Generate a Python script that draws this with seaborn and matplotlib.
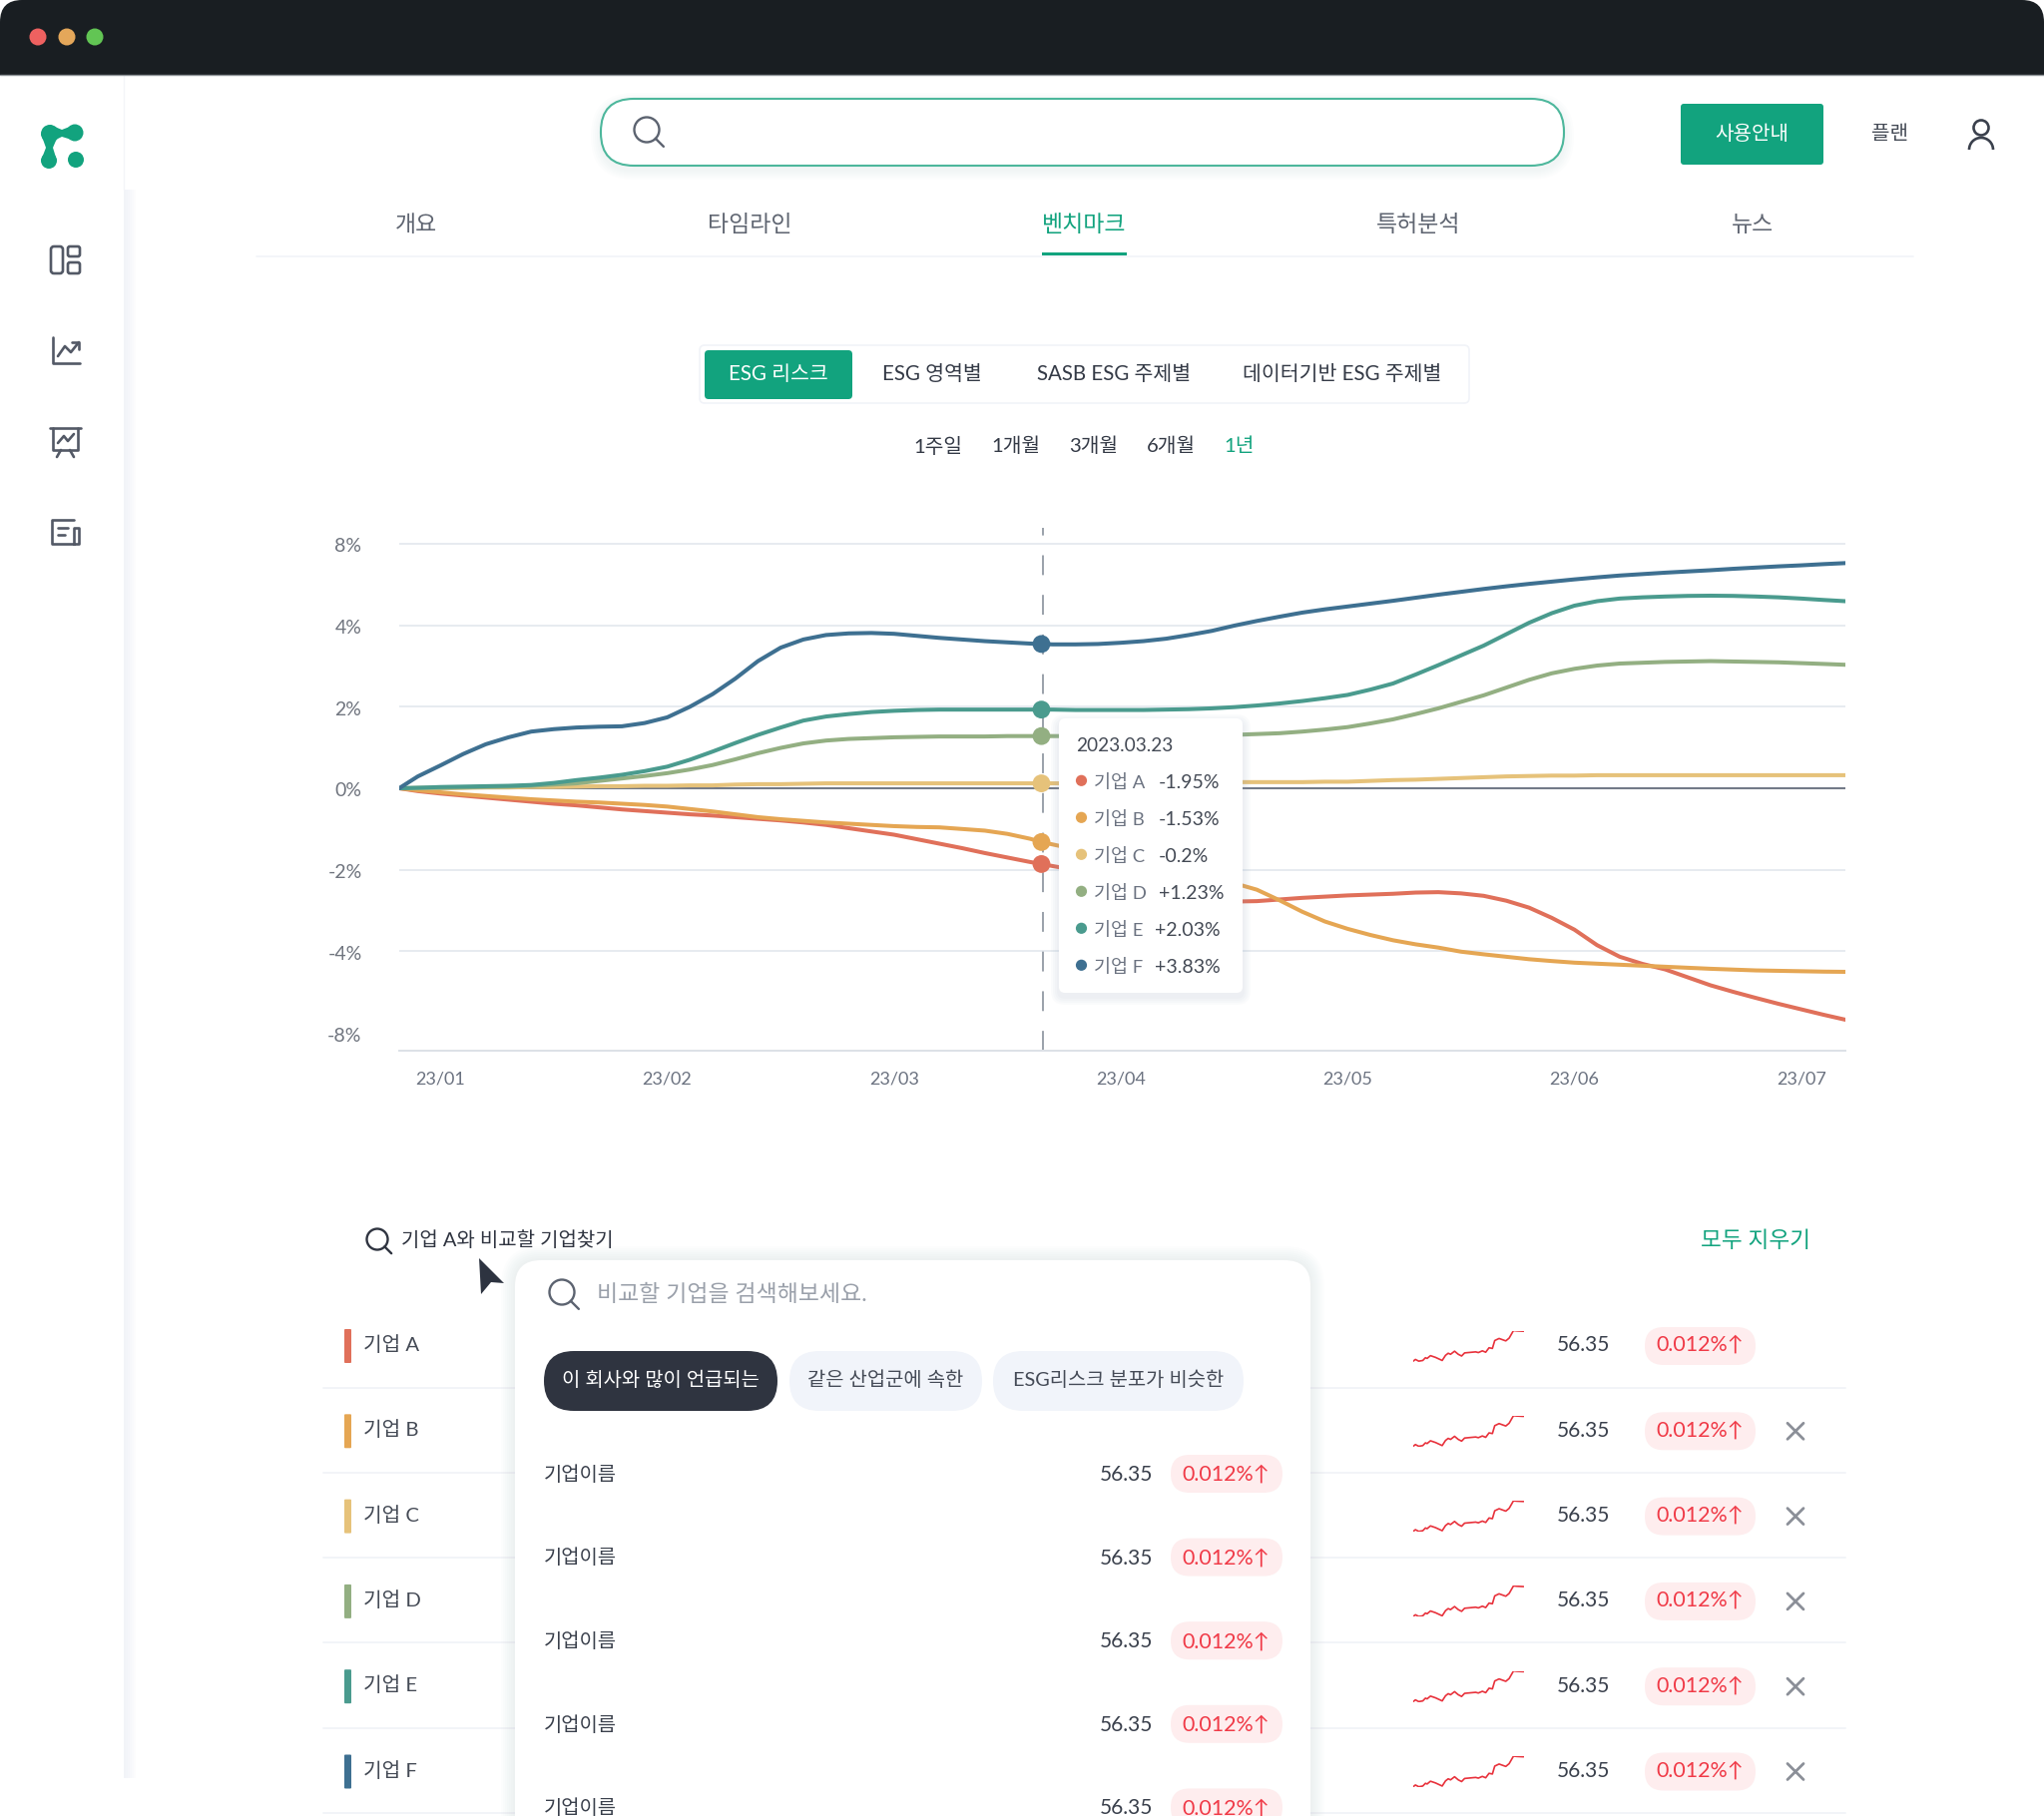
import matplotlib
matplotlib.use("Agg")
import matplotlib.pyplot as plt
import numpy as np
import pandas as pd
import seaborn as sns
from matplotlib.patches import Arc, Circle, FancyBboxPatch, Polygon, Rectangle
from matplotlib.transforms import ScaledTranslation

W, H = 2048, 1820
GREEN = "#12A37E"
DARK = "#343A46"
GREY = "#5F6571"
RED = "#F03A47"

sns.set_theme(style="white")
plt.rcParams["font.family"] = ["Lato", "Noto Sans CJK KR", "DejaVu Sans"]

# chart data (percent)
months = [-0.182, -0.1, 0, 0.1, 0.2, 0.3, 0.4, 0.5, 0.6, 0.7, 0.8, 0.9,
          1.0, 1.1, 1.2, 1.3, 1.4, 1.5, 1.6, 1.7, 1.8, 1.9,
          2.0, 2.1, 2.2, 2.3, 2.4, 2.5, 2.6, 2.65, 2.7, 2.8, 2.9,
          3.0, 3.1, 3.2, 3.3, 3.4, 3.5, 3.6, 3.7, 3.8, 3.9,
          4.0, 4.1, 4.2, 4.3, 4.4, 4.5, 4.6, 4.7, 4.8, 4.9,
          5.0, 5.1, 5.2, 5.3, 5.4, 5.5, 5.6, 5.7, 5.8, 5.9,
          6.0, 6.1, 6.195]
company_a = [0, -.07, -.13, -.18, -.23, -.28, -.33, -.38, -.42, -.47, -.52, -.56,
             -.60, -.64, -.67, -.71, -.75, -.79, -.84, -.90, -.98, -1.06,
             -1.14, -1.25, -1.36, -1.47, -1.59, -1.70, -1.81, -1.86, -1.91, -2.01, -2.15,
             -2.30, -2.46, -2.60, -2.70, -2.76, -2.78, -2.77, -2.73, -2.69, -2.66,
             -2.63, -2.61, -2.59, -2.56, -2.55, -2.58, -2.64, -2.76, -2.93, -3.18,
             -3.47, -3.85, -4.27, -4.62, -4.89, -5.28, -5.67, -5.99, -6.29, -6.58,
             -6.85, -7.12, -7.36]
company_b = [0, -.05, -.10, -.15, -.19, -.23, -.27, -.30, -.33, -.35, -.38, -.41,
             -.45, -.51, -.57, -.64, -.71, -.76, -.80, -.84, -.87, -.90,
             -.93, -.95, -.96, -1.00, -1.04, -1.12, -1.24, -1.32, -1.38, -1.50, -1.63,
             -1.76, -1.90, -2.04, -2.15, -2.25, -2.33, -2.49, -2.75, -3.03, -3.27,
             -3.45, -3.60, -3.73, -3.83, -3.91, -4.02, -4.15, -4.27, -4.39, -4.48,
             -4.56, -4.61, -4.66, -4.71, -4.76, -4.81, -4.86, -4.90, -4.94, -4.96,
             -4.98, -5.00, -5.01]
company_c = [0, 0, 0, .01, .02, .02, .03, .03, .04, .05, .05, .06,
             .06, .07, .07, .09, .10, .10, .11, .12, .12, .12,
             .12, .12, .12, .12, .12, .12, .12, .12, .12, .12, .12,
             .13, .13, .13, .14, .14, .15, .15, .15, .15, .16,
             .16, .18, .20, .21, .23, .25, .27, .29, .30, .31,
             .31, .32, .32, .32, .32, .32, .32, .32, .32, .32,
             .32, .32, .32]
company_d = [0, .01, .01, .02, .03, .04, .06, .09, .12, .18, .24, .30,
             .37, .46, .57, .71, .86, .99, 1.10, 1.17, 1.21, 1.23,
             1.25, 1.26, 1.27, 1.27, 1.27, 1.28, 1.28, 1.28, 1.28, 1.28, 1.28,
             1.29, 1.29, 1.29, 1.30, 1.30, 1.31, 1.33, 1.35, 1.39, 1.44,
             1.50, 1.59, 1.69, 1.82, 1.96, 2.12, 2.28, 2.47, 2.66, 2.82,
             2.93, 3.01, 3.06, 3.08, 3.10, 3.11, 3.12, 3.11, 3.10, 3.09,
             3.07, 3.05, 3.03]
company_e = [0, .01, .03, .04, .05, .06, .08, .13, .20, .26, .33, .42,
             .53, .70, .90, 1.11, 1.31, 1.49, 1.66, 1.76, 1.82, 1.87,
             1.90, 1.92, 1.93, 1.93, 1.93, 1.93, 1.93, 1.93, 1.93, 1.92, 1.92,
             1.92, 1.92, 1.93, 1.94, 1.96, 1.99, 2.03, 2.08, 2.14, 2.21,
             2.29, 2.42, 2.57, 2.79, 3.02, 3.26, 3.50, 3.78, 4.12, 4.59,
             4.96, 5.18, 5.31, 5.37, 5.41, 5.44, 5.45, 5.44, 5.41, 5.37,
             5.31, 5.24, 5.18]
company_f = [0, .29, .56, .84, 1.08, 1.25, 1.39, 1.45, 1.49, 1.51, 1.52, 1.60,
             1.74, 2.00, 2.31, 2.69, 3.12, 3.45, 3.65, 3.76, 3.80, 3.81,
             3.79, 3.74, 3.69, 3.65, 3.61, 3.58, 3.55, 3.54, 3.53, 3.53, 3.54,
             3.57, 3.61, 3.67, 3.76, 3.86, 3.99, 4.21, 4.42, 4.62, 4.78,
             4.92, 5.06, 5.20, 5.35, 5.50, 5.64, 5.78, 5.91, 6.03, 6.14,
             6.25, 6.35, 6.44, 6.51, 6.58, 6.64, 6.70, 6.77, 6.83, 6.89,
             6.94, 7.00, 7.05]
companies = ["기업 A", "기업 B", "기업 C", "기업 D", "기업 E", "기업 F"]
colors = ["#E0705A", "#E5A653", "#E6C27A", "#93AF82", "#4A9B8E", "#3E7091"]
hover_month = 2.65
month_ticks = [0, 1, 2, 3, 4, 5, 6]
month_labels = ["23/01", "23/02", "23/03", "23/04", "23/05", "23/06", "23/07"]
pct_ticks = [8, 4, 2, 0, -2, -4, -8]
pct_labels = ["8%", "4%", "2%", "0%", "-2%", "-4%", "-8%"]
tooltip_date = "2023.03.23"
tooltip_values = ["-1.95%", "-1.53%", "-0.2%", "+1.23%", "+2.03%", "+3.83%"]

# the little sparkline in every table row
spark_t = [0, 8, 18, 30, 38, 43, 53, 68, 88, 98, 106, 113, 125, 136, 146, 155, 188, 196,
           208, 218, 228, 238, 245, 258, 278, 288, 301, 311, 331]
spark_v = [0, 6, 1, 3, 11, 9, 17, 12, 3, 18, 24, 21, 30, 21, 16, 25, 28, 26,
           31, 27, 40, 38, 61, 67, 60, 68, 90, 89, 88]

tabs = ["개요", "타임라인", "벤치마크", "특허분석", "뉴스"]
segments = ["ESG 리스크", "ESG 영역별", "SASB ESG 주제별", "데이터기반 ESG 주제별"]
periods = ["1주일", "1개월", "3개월", "6개월", "1년"]
chips = ["이 회사와 많이 언급되는", "같은 산업군에 속한", "ESG리스크 분포가 비슷한"]
price = "56.35"
change = "0.012%↑"


def box(ax, x0, y0, x1, y1, r=0, fc="white", ec="none", lw=0, z=2, alpha=None):
    p = FancyBboxPatch((x0, y0), x1 - x0, y1 - y0, boxstyle=f"round,pad=0,rounding_size={r}",
                       fc=fc, ec=ec, lw=lw, zorder=z, alpha=alpha)
    ax.add_patch(p)
    return p


def shadow(ax, x0, y0, x1, y1, r, spread=14, dy=3, color="#8FA0BC", alpha=0.018, z=2):
    for i in range(spread, 0, -2):
        box(ax, x0 - i, y0 - i + dy, x1 + i, y1 + i + dy, r + i, fc=color, z=z, alpha=alpha)


def label(ax, x, y, s, size=14, color=DARK, ha="center", z=6):
    ax.text(x, y, s, fontsize=size, color=color, ha=ha, va="center", zorder=z)


def seg(ax, xs, ys, color="#535966", lw=1.9, z=5):
    ax.plot(xs, ys, color=color, lw=lw, solid_capstyle="round", solid_joinstyle="round", zorder=z)


def search_icon(ax, cx, cy, r=11.5, color="#5C6370"):
    ax.add_patch(Circle((cx, cy), r, fc="none", ec=color, lw=1.7, zorder=5))
    seg(ax, [cx + r * 0.7, cx + r * 1.35], [cy + r * 0.7, cy + r * 1.35], color=color, lw=1.7)


fig = plt.figure(figsize=(W / 100, H / 100), dpi=100, facecolor="white")
bg = fig.add_axes([0, 0, 1, 1], zorder=0)
bg.set_xlim(0, W)
bg.set_ylim(H, 0)
bg.axis("off")

# window bar
box(bg, 0, 0, W, 60, r=22, fc="#191E22")
bg.add_patch(Rectangle((0, 30), W, 45, fc="#191E22", lw=0, zorder=2))
bg.plot([0, W], [75, 75], color="#8C9196", lw=1, zorder=3)
for cx, col in zip([38, 67, 95], ["#EE6160", "#E4A75A", "#62C554"]):
    bg.add_patch(Circle((cx, 37), 8.5, fc=col, lw=0, zorder=3))

# sidebar
for i in range(6):
    bg.add_patch(Rectangle((124, 190), 12 - 2 * i, 1592, fc="#EEF1F8", lw=0, alpha=0.17, zorder=1))
bg.plot([124, 124], [76, 190], color="#F4F5F8", lw=1, zorder=1)

# logo
for cx, cy, r in [(50, 134, 9), (75, 133, 8.5), (49, 161, 8), (76, 160, 8)]:
    bg.add_patch(Circle((cx, cy), r, fc=GREEN, lw=0, zorder=3))
bg.add_patch(Polygon([(50, 125), (62, 130), (75, 125), (75, 141), (62, 137), (50, 143)], fc=GREEN, lw=0, zorder=3))
bg.add_patch(Polygon([(41, 134), (46, 148), (41, 161), (57, 161), (53, 148), (59, 134)], fc=GREEN, lw=0, zorder=3))

# sidebar icons
box(bg, 51, 247, 63, 274, r=3, fc="none", ec="#535966", lw=1.9, z=4)
box(bg, 68, 247, 80, 257, r=2, fc="none", ec="#535966", lw=1.9, z=4)
box(bg, 68, 263, 80, 274, r=2, fc="none", ec="#535966", lw=1.9, z=4)
seg(bg, [53, 53, 80], [338, 364, 364])
seg(bg, [58, 65, 71, 79], [357, 347, 353, 343])
seg(bg, [72, 79, 79], [343, 343, 350])
seg(bg, [50, 81], [429, 429])
seg(bg, [53, 53, 78, 78], [429, 451, 451, 429])
seg(bg, [58, 64, 68, 74], [444, 437, 442, 435])
seg(bg, [61, 57], [451, 458])
seg(bg, [70, 74], [451, 458])
seg(bg, [74, 52, 52, 79, 79, 74, 74], [521, 521, 545, 545, 529, 529, 545])
seg(bg, [58, 68], [529, 529])
seg(bg, [58, 65], [536, 536])

# search bar and header
shadow(bg, 602, 99, 1567, 166, 33, spread=10, dy=4)
box(bg, 602, 99, 1567, 166, r=33, fc="white", ec="#4DB79C", lw=1.5, z=3)
search_icon(bg, 648, 130, r=12.5)
box(bg, 1684, 104, 1827, 165, r=3, fc=GREEN, z=3)
label(bg, 1755, 133.5, "사용안내", 14.5, "white")
label(bg, 1893, 134, "플랜", 14.5, "#444A55")
bg.add_patch(Circle((1985, 128), 7.5, fc="none", ec="#3A404C", lw=1.9, zorder=4))
bg.add_patch(Arc((1985, 150), 24, 24, theta1=180, theta2=360, ec="#3A404C", lw=1.9, zorder=4))

# tabs
for x, t in zip([417, 751, 1086, 1421, 1756], tabs):
    label(bg, x, 225.5, t, 16.5, GREEN if t == "벤치마크" else GREY)
bg.plot([257, 1917], [256.5, 256.5], color="#F1F3F8", lw=1.2, zorder=2)
bg.add_patch(Rectangle((1044, 253), 85, 3.2, fc=GREEN, lw=0, zorder=3))

# range selectors
box(bg, 701, 346, 1472, 404, r=5, fc="white", ec="#F1F3F8", lw=1.2, z=2)
box(bg, 706, 351, 854, 400, r=4, fc=GREEN, z=3)
for x, t in zip([780, 934, 1116, 1345], segments):
    label(bg, x, 375, t, 14.8, "white" if t == "ESG 리스크" else DARK)
for x, t in zip([940, 1018, 1096, 1173, 1242], periods):
    label(bg, x, 447, t, 14.6, GREEN if t == "1년" else DARK)

# line chart, y axis has uneven steps like the original
scale_pct = [-12, -8, -4, -2, 0, 2, 4, 8, 12]
scale_pos = [-4, -3, -2, -1, 0, 1, 2, 3, 4]


def pct_to_pos(v):
    return np.interp(v, scale_pct, scale_pos)


def pos_to_pct(v):
    return np.interp(v, scale_pos, scale_pct)


df = pd.DataFrame({
    "month": months,
    companies[0]: company_a,
    companies[1]: company_b,
    companies[2]: company_c,
    companies[3]: company_d,
    companies[4]: company_e,
    companies[5]: company_f,
}).melt(id_vars="month", var_name="company", value_name="pct")
palette = dict(zip(companies, colors))

ax = fig.add_axes([400 / W, 1 - 1053 / H, 1449 / W, 524 / H], zorder=1)
ax.patch.set_alpha(0)
ax.set_yscale("function", functions=(pct_to_pos, pos_to_pct))
for v in [8, 4, 2, -2, -4]:
    ax.axhline(v, color="#E3E7ED", lw=1.2, zorder=1)
ax.axhline(0, color="#737A88", lw=1.5, zorder=1.5)
ax.axvline(hover_month + 0.005, color="#7F8793", lw=1.1, ls=(0, (13, 13)), zorder=1.6)
sns.lineplot(data=df, x="month", y="pct", hue="company", hue_order=companies, palette=palette,
             lw=2.9, sort=False, errorbar=None, legend=False, ax=ax, zorder=3)
sns.scatterplot(data=df[df["month"] == hover_month], x="month", y="pct", hue="company", hue_order=companies,
                palette=palette, s=165, linewidth=0, legend=False, ax=ax, zorder=4, clip_on=False)
ax.set_xlim(-0.182, 6.195)
ax.set_ylim(-8.88, 8.78)
ax.set_xticks(month_ticks, month_labels)
ax.set_yticks(pct_ticks, pct_labels)
ax.minorticks_off()
ax.tick_params(axis="x", length=0, pad=15, labelsize=13, labelcolor="#6B7280")
ax.tick_params(axis="y", length=0, pad=27, labelsize=14, labelcolor="#70757F")
nudge = ScaledTranslation(0, -1.5 / 100, fig.dpi_scale_trans)
for t in ax.get_yticklabels():
    t.set_transform(t.get_transform() + nudge)
ax.set_xlabel("")
ax.set_ylabel("")
sns.despine(ax=ax, left=True)
ax.spines["bottom"].set_color("#DDE1E7")
ax.spines["bottom"].set_linewidth(1.4)

# table
label(bg, 402, 1242.3, "기업 A와 비교할 기업찾기", 14.4, "#2F3440", ha="left")
search_icon(bg, 378, 1242, r=10.5, color="#2F3440")
label(bg, 1759, 1243.3, "모두 지우기", 16.3, GREEN)
row_centers = [1349 + 85.3 * i for i in range(6)]
for i, (cy, name, col) in enumerate(zip(row_centers, companies, colors)):
    box(bg, 345, cy - 17, 352, cy + 17, r=1, fc=col, z=2)
    label(bg, 364, cy - 1.4, name, 14.6, "#444A55", ha="left")
    bg.plot([324, 1849], [cy + 41.5, cy + 41.5], color="#F1F3F8", lw=1.3, zorder=1)
    label(bg, 1586, cy - 0.5, price, 15, "#3A404C")
    box(bg, 1648, cy - 19, 1759, cy + 19, r=19, fc="#FEEDEE", z=2)
    label(bg, 1659, cy - 1, change, 15.4, RED, ha="left")
    if i > 0:
        seg(bg, [1791, 1807], [cy - 8, cy + 8], color="#8B8F98", lw=2)
        seg(bg, [1807, 1791], [cy - 8, cy + 8], color="#8B8F98", lw=2)
    sp = fig.add_axes([1415.5 / W, 1 - (cy + 15.5) / H, 111 / W, 31 / H], zorder=1)
    sp.patch.set_alpha(0)
    sns.lineplot(x=spark_t, y=spark_v, color="#E8323C", lw=1.2, errorbar=None, ax=sp)
    sp.set_xlim(0, 331)
    sp.set_ylim(0, 90)
    sp.axis("off")

# comparison popup
shadow(bg, 516, 1263, 1313, 1900, 26, spread=14, dy=0, z=3)
box(bg, 516, 1263, 1313, 1900, r=26, fc="white", z=4)
bg.add_patch(Polygon([(480, 1261), (505, 1286), (492, 1285), (482, 1297)], fc="#2D3340", lw=0, zorder=5))
search_icon(bg, 563, 1295, r=12.5)
label(bg, 598, 1297, "비교할 기업을 검색해보세요.", 16.5, "#9AA0AA", ha="left")
chip_spans = [(545, 779), (791, 984), (995, 1246)]
for k, (span, t) in enumerate(zip(chip_spans, chips)):
    box(bg, span[0], 1354, span[1], 1414, r=30, fc="#2F3440" if k == 0 else "#F1F4FA", z=5)
    label(bg, sum(span) / 2, 1382.5, t, 14.3, "white" if k == 0 else "#454B57")
for cy in [1477 + 83.6 * i for i in range(5)]:
    label(bg, 545, cy + 0.5, "기업이름", 14.3, "#3A404C", ha="left")
    label(bg, 1128, cy + 1, price, 15, "#3A404C")
    box(bg, 1173, cy - 19, 1285, cy + 19, r=19, fc="#FEEDEE", z=5)
    label(bg, 1184, cy + 1, change, 15.4, RED, ha="left")

# hover tooltip sits on top of the lines
fg = fig.add_axes([0, 0, 1, 1], zorder=3)
fg.set_xlim(0, W)
fg.set_ylim(H, 0)
fg.axis("off")
shadow(fg, 1061, 720, 1245, 995, 6, spread=8, dy=4, alpha=0.04)
box(fg, 1061, 720, 1245, 995, r=6, fc="white", z=3)
label(fg, 1078, 747.7, tooltip_date, 13.7, "#444A55", ha="left")
for i, (name, col, val) in enumerate(zip(companies, colors, tooltip_values)):
    y = 784.3 + 37 * i
    fg.add_patch(Circle((1083.5, y - 2), 5.6, fc=col, lw=0, zorder=5))
    label(fg, 1096, y, name, 13.3, "#6B7280", ha="left")
    label(fg, 1161 if i < 4 else 1157, y, val, 14, "#444A55", ha="left")

fig.savefig("out.png", dpi=100, facecolor="white")
